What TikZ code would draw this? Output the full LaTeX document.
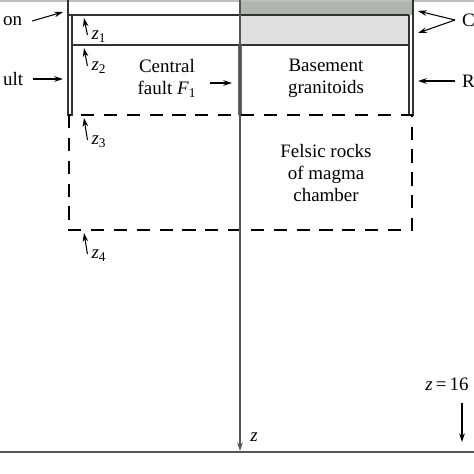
\documentclass[tikz,border=0pt]{standalone}
\usepackage{fontspec}
\setmainfont{Liberation Serif}
\usetikzlibrary{arrows.meta}
\definecolor{edgegray}{RGB}{50,50,50}
\definecolor{rimgray}{RGB}{190,190,190}
\definecolor{coverdark}{RGB}{178,180,178}
\definecolor{coverlight}{RGB}{224,224,224}
\definecolor{faultgray}{RGB}{100,100,100}
\definecolor{axisgray}{RGB}{85,85,85}
\newcommand{\zsub}[1]{\textit{z}\textsubscript{#1}}

\begin{document}
\begin{tikzpicture}[
    x=0.02cm, y=-0.02cm,
    every node/.style = {font=\fontsize{10.8}{12.6}\selectfont, inner sep=1pt},
    edge/.style       = {draw=edgegray, line width=0.7pt},
    pointer/.style    = {-{Stealth[length=5pt,width=3.2pt]}, line width=0.6pt},
    chamber/.style    = {line width=1.7pt, dash pattern=on 7.5pt off 5.5pt},
    body/.style       = {align=center},
]
\useasboundingbox (0,0) rectangle (474,474);

\draw[rimgray, line width=1.2pt] (0,1) -- (474,1);
\fill[coverdark]  (240,2) rectangle (413,15);
\fill[coverlight] (240,15) rectangle (409,45);
\draw[edge] (68,0) -- (68,115) -- (72,115) -- (72,15);
\draw[edge] (68,15) -- (409,15);
\draw[edge] (72,45) -- (409,45);
\draw[edge] (413,0) -- (413,115) -- (409,115) -- (409,15);
\fill[faultgray] (237.5,45) rectangle (241.8,115);
\draw[chamber] (69,115) rectangle (412,230);

\draw[axisgray, line width=0.6pt] (0,452) -- (474,452);
\coordinate (top)  at (240,0);
\coordinate (base) at (240,451);
\draw[axisgray, line width=0.6pt, -{Stealth[length=5pt,width=3.2pt]}] (top) -- (base);

\node[body] (cen) at (167,78)  {Central\\fault \textit{F}\textsubscript{1}};
\node[body] (bas) at (326,78)  {Basement\\granitoids};
\node[body] (fel) at (326,173) {Felsic rocks\\of magma\\chamber};

\coordinate (f1tail) at (210,83);
\coordinate (f1tip)  at (232,83);
\draw[pointer] (f1tail) -- (f1tip);

\node (z1) at (99,37)  {\zsub{1}};
\node (z2) at (99,68)  {\zsub{2}};
\node (z3) at (99,142) {\zsub{3}};
\node (z4) at (99,256) {\zsub{4}};
\coordinate (z1tip) at (84,18);
\coordinate (z2tip) at (84,48);
\coordinate (z3tip) at (84,118);
\coordinate (z4tip) at (84,233);
\draw[pointer] ([shift={(-2,-2)}]z1.west) -- (z1tip);
\draw[pointer] ([shift={(-2,-2)}]z2.west) -- (z2tip);
\draw[pointer] ([shift={(-2,-2)}]z3.west) -- (z3tip);
\draw[pointer] ([shift={(-2,-2)}]z4.west) -- (z4tip);

\node[anchor=west] (lon)  at (1,21) {on};
\node[anchor=west] (lult) at (1,79) {ult};
\coordinate (lontip)  at (63,12);
\coordinate (lulttip) at (63,79);
\draw[pointer] ([shift={(8,0)}]lon.east)  -- (lontip);
\draw[pointer] ([shift={(8,0)}]lult.east) -- (lulttip);

\node[anchor=west] (rc) at (460,20) {C};
\node[anchor=west] (rr) at (460,81) {R};
\coordinate (rctip1) at (418,11);
\coordinate (rctip2) at (418,33);
\coordinate (rrtip)  at (418,81);
\draw[pointer] ([shift={(-5,0)}]rc.west) -- (rctip1);
\draw[pointer] ([shift={(-5,0)}]rc.west) -- (rctip2);
\draw[pointer] ([shift={(-5,0)}]rr.west) -- (rrtip);

\node (zax) at (254,437) {\textit{z}};
\node (z16) at (447,384) {\textit{z}\,=\,16};
\coordinate (z16tip) at (462,442);
\draw[pointer] ([yshift=-6pt]z16.south -| z16tip) -- (z16tip);
\end{tikzpicture}
\end{document}
